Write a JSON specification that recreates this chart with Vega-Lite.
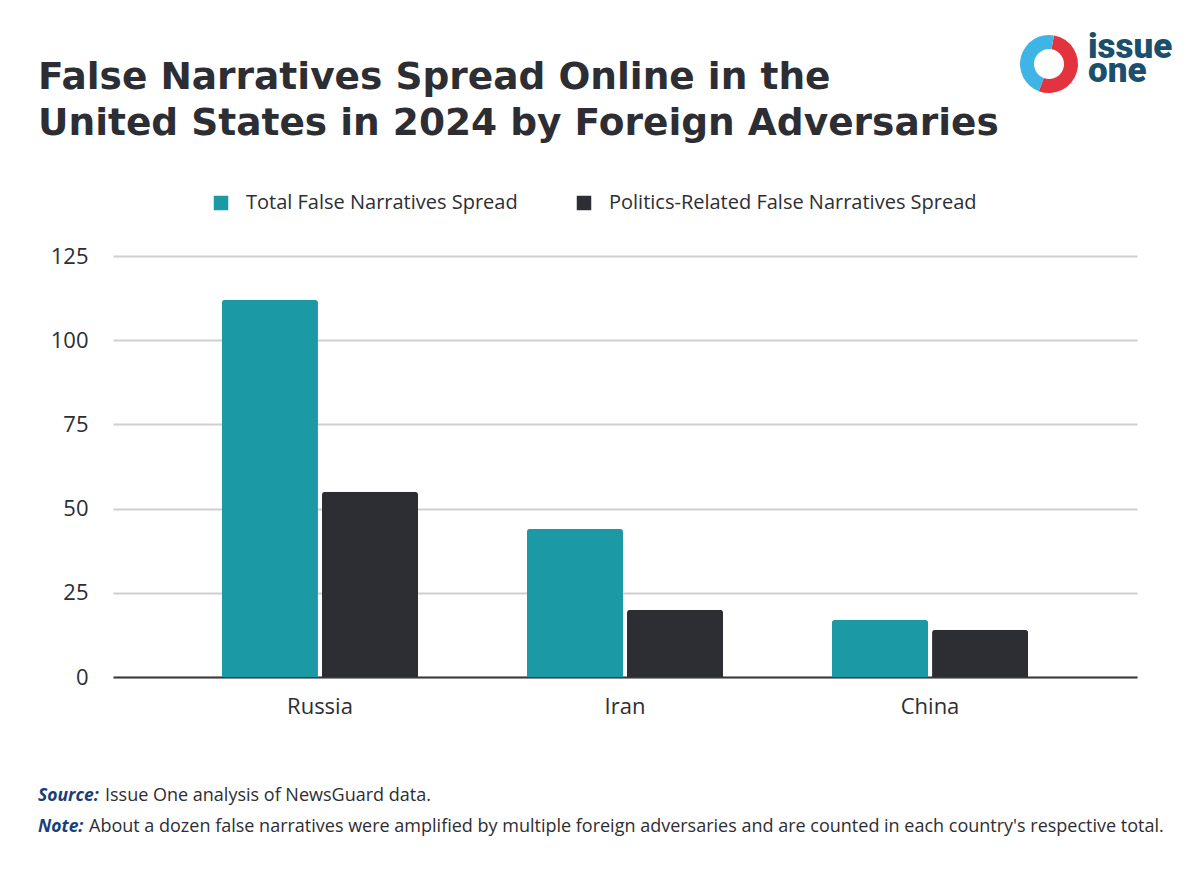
{
  "$schema": "https://vega.github.io/schema/vega-lite/v6.json",
  "width": 1024,
  "height": 421,
  "autosize": {"type": "none"},
  "padding": {"left": 113, "top": 256, "right": 63, "bottom": 198},
  "background": "white",
  "title": {
    "text": ["False Narratives Spread Online in the", "United States in 2024 by Foreign Adversaries"],
    "anchor": "start",
    "frame": "group",
    "dx": -75,
    "offset": -112,
    "font": "DejaVu Sans",
    "fontSize": 37.5,
    "fontWeight": 700,
    "lineHeight": 46,
    "limit": 0,
    "color": "#2d2e33"
  },
  "config": {
    "view": {"stroke": null},
    "font": "Open Sans"
  },
  "layer": [
    {
      "data": {
        "values": [
          {"country": "Russia", "series": "Total False Narratives Spread", "value": 112},
          {"country": "Russia", "series": "Politics-Related False Narratives Spread", "value": 55},
          {"country": "Iran", "series": "Total False Narratives Spread", "value": 44},
          {"country": "Iran", "series": "Politics-Related False Narratives Spread", "value": 20},
          {"country": "China", "series": "Total False Narratives Spread", "value": 17},
          {"country": "China", "series": "Politics-Related False Narratives Spread", "value": 14}
        ]
      },
      "mark": {"type": "bar", "cornerRadiusTopLeft": 3, "cornerRadiusTopRight": 3},
      "encoding": {
        "x": {
          "field": "country",
          "type": "nominal",
          "sort": ["Russia", "Iran", "China"],
          "scale": {"paddingInner": 0.357, "paddingOuter": 0.357},
          "axis": {
            "title": null,
            "labelAngle": 0,
            "labelFont": "Open Sans",
            "labelFontSize": 22,
            "labelColor": "#2d2e33",
            "labelPadding": 19,
            "ticks": false,
            "domainColor": "#3a3a3d",
            "domainWidth": 2
          }
        },
        "xOffset": {
          "field": "series",
          "type": "nominal",
          "sort": ["Total False Narratives Spread", "Politics-Related False Narratives Spread"],
          "scale": {"paddingInner": 0.04, "paddingOuter": 0}
        },
        "y": {
          "field": "value",
          "type": "quantitative",
          "scale": {"domain": [0, 125]},
          "axis": {
            "title": null,
            "values": [0, 25, 50, 75, 100, 125],
            "labelFont": "Open Sans",
            "labelFontSize": 22,
            "labelColor": "#2d2e33",
            "labelPadding": 25,
            "ticks": false,
            "domain": false,
            "gridColor": "#cfcfcf",
            "gridWidth": 2
          }
        },
        "color": {
          "field": "series",
          "type": "nominal",
          "sort": ["Total False Narratives Spread", "Politics-Related False Narratives Spread"],
          "scale": {
            "domain": ["Total False Narratives Spread", "Politics-Related False Narratives Spread"],
            "range": ["#1b99a4", "#2d2e33"]
          },
          "legend": {
            "title": null,
            "orient": "none",
            "legendX": 98,
            "legendY": -63,
            "direction": "horizontal",
            "symbolType": "square",
            "symbolSize": 210,
            "symbolStrokeWidth": 0,
            "labelFont": "Open Sans",
            "labelFontSize": 20,
            "labelLimit": 0,
            "labelColor": "#2d2e33",
            "labelOffset": 15,
            "columnPadding": 56
          }
        }
      }
    },
    {
      "data": {"values": [{"part": "ring"}]},
      "mark": {"type": "arc", "x": 936, "y": -192, "radius": 29, "radius2": 15, "theta": 0.17, "theta2": 3.5, "fill": "#e2333f"},
      "encoding": {}
    },
    {
      "data": {"values": [{"part": "ring"}]},
      "mark": {"type": "arc", "x": 936, "y": -192, "radius": 29, "radius2": 15, "theta": 3.5, "theta2": 6.45, "fill": "#3fb5e6"},
      "encoding": {}
    },
    {
      "data": {"values": [{"part": "wordmark"}]},
      "mark": {"type": "text", "x": 975, "y": -198, "text": ["issue", "one"], "lineHeight": 24, "align": "left", "baseline": "alphabetic", "font": "Roboto", "fontSize": 35, "fontWeight": 900, "fill": "#1b4f6b"},
      "encoding": {}
    },
    {
      "data": {"values": [{"part": "source"}]},
      "mark": {"type": "text", "x": -75, "y": 545, "text": "Source:", "align": "left", "baseline": "alphabetic", "font": "Open Sans", "fontSize": 17.5, "fontWeight": 700, "fontStyle": "italic", "fill": "#173f7c"},
      "encoding": {}
    },
    {
      "data": {"values": [{"part": "source"}]},
      "mark": {"type": "text", "x": -8, "y": 545, "text": "Issue One analysis of NewsGuard data.", "align": "left", "baseline": "alphabetic", "font": "Open Sans", "fontSize": 18, "fill": "#2d2e33"},
      "encoding": {}
    },
    {
      "data": {"values": [{"part": "note"}]},
      "mark": {"type": "text", "x": -75, "y": 576, "text": "Note:", "align": "left", "baseline": "alphabetic", "font": "Open Sans", "fontSize": 17.5, "fontWeight": 700, "fontStyle": "italic", "fill": "#173f7c"},
      "encoding": {}
    },
    {
      "data": {"values": [{"part": "note"}]},
      "mark": {"type": "text", "x": -24, "y": 576, "text": "About a dozen false narratives were amplified by multiple foreign adversaries and are counted in each country's respective total.", "align": "left", "baseline": "alphabetic", "font": "Open Sans", "fontSize": 18, "fill": "#2d2e33"},
      "encoding": {}
    }
  ]
}
